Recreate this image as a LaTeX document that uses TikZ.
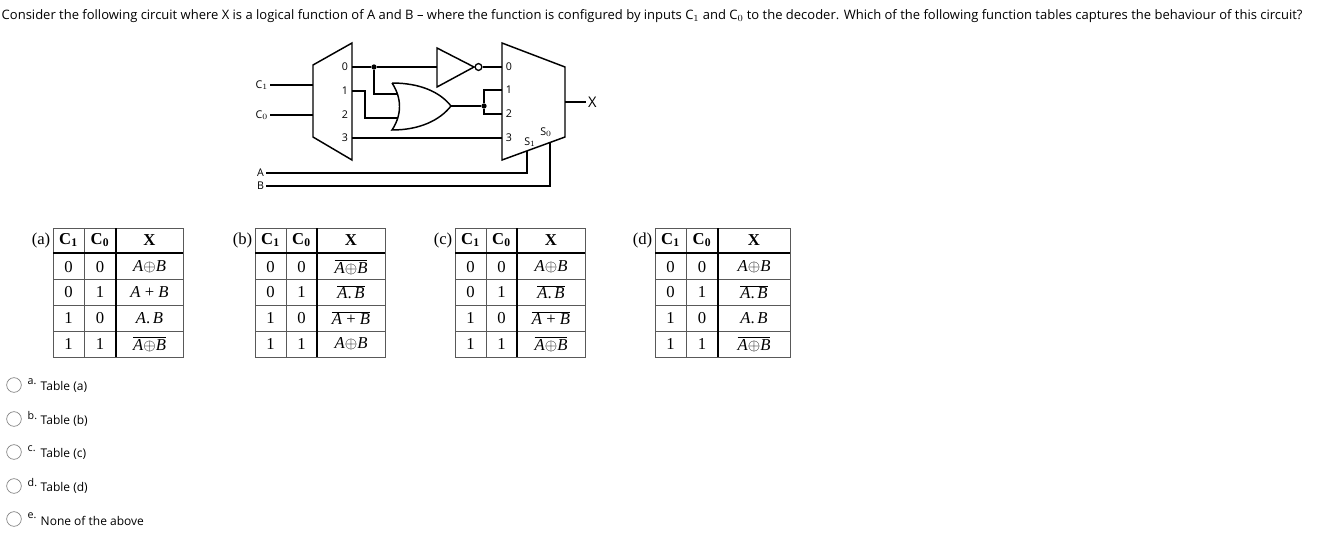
\documentclass[tikz,border=0pt]{standalone}
\usepackage{fontspec}
\setmainfont{Liberation Serif}
\newfontfamily\osans{Open Sans}
\newcommand{\vA}{\textit{A}}
\newcommand{\vB}{\textit{B}}
\newcommand{\xo}{\vA$\oplus$\vB}
\newcommand{\ov}[1]{$\overline{\hbox{#1}}$}
\begin{document}
\begin{tikzpicture}[x=0.75pt,y=-0.75pt,line width=1.1pt,
  lbl/.style={font=\osans\fontsize{8}{9}\selectfont,inner sep=1pt},
  tb/.style={font=\fontsize{12.5}{14}\selectfont,inner sep=0pt},
  opt/.style={font=\osans\fontsize{9}{10}\selectfont,inner sep=0pt,anchor=west},
  dot/.style={circle,fill,inner sep=1.4pt}]
\useasboundingbox (0,0) rectangle (1325,536);
\node[anchor=west,font=\osans\fontsize{9.75}{11}\selectfont,inner sep=0pt] (title) at (1,16) {Consider the following circuit where X is a logical function of A and B \textendash{} where the function is configured by inputs C$_1$ and C$_0$ to the decoder. Which of the following function tables captures the behaviour of this circuit?};
% decoder
\draw (313,65) -- (352,43) -- (352,160) -- (313,137) -- cycle;
\foreach \i/\y in {0/67,1/91,2/115,3/138}{\node[lbl] (d\i) at (345,\y) {\i}; \coordinate (do\i) at (352,\y);}
\coordinate (dc1) at (313,85); \coordinate (dc0) at (313,115);
\node[lbl,anchor=east] (lc1) at (270,85) {C$_1$};
\node[lbl,anchor=east] (lc0) at (270,115) {C$_0$};
\draw (lc1.east) -- (dc1); \draw (lc0.east) -- (dc0);
% mux
\draw (502,43) -- (565,67) -- (565,137) -- (502,160) -- cycle;
\foreach \i/\y in {0/67,1/90,2/114,3/138}{\node[lbl] (m\i) at (509,\y) {\i}; \coordinate (mi\i) at (502,\y);}
\node[lbl] (s1) at (530,142) {S$_1$};
\node[lbl] (s0) at (546,132) {S$_0$};
\coordinate (mx) at (565,102);
\node[font=\osans\fontsize{11}{12}\selectfont,inner sep=1pt,anchor=west] (X) at (586,102) {X};
\draw (mx) -- (X.west);
% inverter
\draw (437,48) -- (437,87) -- (474,67) -- cycle;
\node[circle,draw,inner sep=1.8pt,line width=1pt] (bub) at (478.5,67) {};
\node[dot] (j1) at (374,67) {};
\draw (do0) -- (j1) -- (437,67);
\draw (bub.east) -- (mi0);
% OR gate
\draw (392,83) .. controls (420,83) and (440,92) .. (451,106) .. controls (440,120) and (420,130) .. (392,130) .. controls (402,115) and (402,98) .. (392,83);
\coordinate (ora) at (397,94); \coordinate (orb) at (397,118); \coordinate (oro) at (451,106);
\draw (j1) |- (ora);
\draw (do1) -| (365,118) -- (orb);
\node[dot] (j2) at (484,106) {};
\draw (oro) -- (j2);
\draw (j2) |- (mi1); \draw (j2) |- (mi2);
\draw (do3) -- (mi3);
% A B
\node[lbl,anchor=east] (la) at (266,173) {A};
\node[lbl,anchor=east] (lb) at (266,186) {B};
\coordinate (sa) at (527,151); \coordinate (sb) at (550,142.5);
\draw (la.east) -| (sa);
\draw (lb.east) -| (sb);
% tables
\foreach \n/\l/\xa/\xb/\xc/\xd/\ea/\eb/\ec/\ed in {
 a/(a)/53/84/116/183/{\xo}/{\vA\ +\ \vB}/{\vA.\,\vB}/{\ov{\xo}},
 b/(b)/255/286/317/385/{\ov{\xo}}/{\ov{\vA.\,\vB}}/{\ov{\vA\ +\ \vB}}/{\xo},
 c/(c)/455/486/517/585/{\xo}/{\ov{\vA.\,\vB}}/{\ov{\vA\ +\ \vB}}/{\ov{\xo}},
 d/(d)/655/686/718/790/{\xo}/{\ov{\vA.\,\vB}}/{\vA.\,\vB}/{\ov{\xo}}}{
 \draw[line width=0.6pt,gray!70!black] (\xa,228) rectangle (\xd,357);
 \foreach \yy in {279,305,331} \draw[line width=0.6pt,gray!70!black] (\xa,\yy) -- (\xd,\yy);
 \draw[line width=0.6pt,gray!70!black] (\xb,228) -- (\xb,357);
 \draw[line width=2pt] (\xc,228) -- (\xc,357);
 \draw[line width=2pt] (\xa,253) -- (\xd,253);
 \node[tb,anchor=east] (lab\n) at (\xa-2,240) {\l};
 \node[tb] (h1\n) at ({(\xa+\xb)/2},240) {\textbf{C\textsubscript{1}}};
 \node[tb] (h0\n) at ({(\xb+\xc)/2},240) {\textbf{C\textsubscript{0}}};
 \node[tb] (hx\n) at ({(\xc+\xd)/2},240) {\textbf{X}};
 \foreach \r/\p/\q/\e/\yy in {1/0/0/\ea/267,2/0/1/\eb/292,3/1/0/\ec/318,4/1/1/\ed/344}{
   \node[tb] (p\n\r) at ({(\xa+\xb)/2},\yy) {\p};
   \node[tb] (q\n\r) at ({(\xb+\xc)/2},\yy) {\q};
   \node[tb] (e\n\r) at ({(\xc+\xd)/2},\yy) {\e};
 }
}
% options
\foreach \k/\y/\t in {a/385/Table (a),b/419/Table (b),c/452/Table (c),d/486/Table (d),e/519/None of the above}{
 \node[circle,draw,line width=0.5pt,gray,minimum size=11pt,inner sep=0pt] (c\k) at (14,\y) {};
 \node[opt,font=\osans\fontsize{8}{9}\selectfont] (k\k) at (27,\y-3) {\k.};
 \node[opt] (t\k) at (40,\y+2) {\t};
}
\end{tikzpicture}
\end{document}
